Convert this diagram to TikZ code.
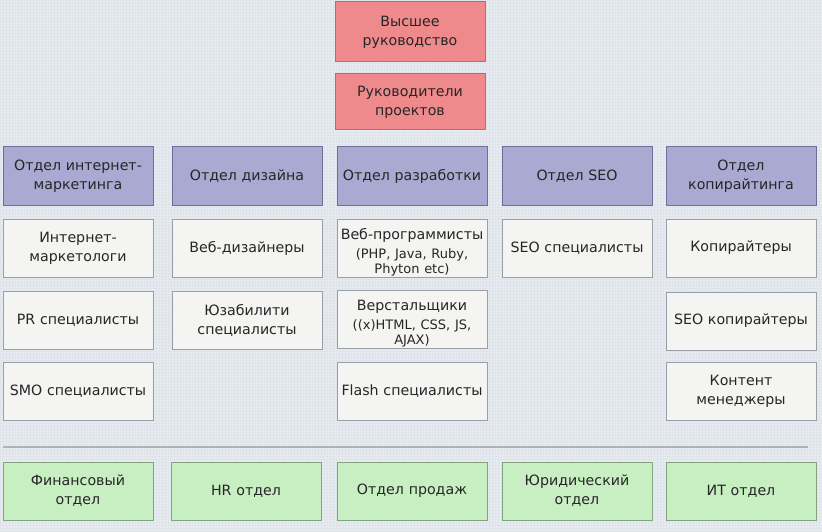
\documentclass[tikz,border=0pt]{standalone}
\usepackage{fontspec}
\setmainfont{DejaVu Sans}
\definecolor{bg}{HTML}{E8ECF1}
\definecolor{gridc}{HTML}{DFE3EA}
\definecolor{redf}{HTML}{EF8A8C}
\definecolor{redd}{HTML}{B86A6E}
\definecolor{bluef}{HTML}{AAA9D2}
\definecolor{blued}{HTML}{6E6E98}
\definecolor{whitef}{HTML}{F4F4F2}
\definecolor{whited}{HTML}{9A9EA6}
\definecolor{greenf}{HTML}{C8EFC2}
\definecolor{greend}{HTML}{7FA47E}
\definecolor{txt}{HTML}{262626}
\definecolor{linec}{HTML}{AEB3BB}
\newcommand{\smalltxt}{\fontsize{13}{15}\selectfont}
\newcommand{\lowstrut}{\rule{0pt}{19pt}}
\begin{document}
\begin{tikzpicture}[x=1pt,y=-1pt,
  box/.style={rectangle, minimum width=150pt, minimum height=58pt, inner sep=0pt,
    text width=148pt, align=center, font=\fontsize{14.2}{19}\selectfont, text=txt, line width=1pt},
  topbox/.style={box, fill=redf, draw=redd},
  deptbox/.style={box, fill=bluef, draw=blued},
  specbox/.style={box, fill=whitef, draw=whited},
  supbox/.style={box, fill=greenf, draw=greend}
]
\useasboundingbox (0,0) rectangle (822,532);
\fill[bg] (0,0) rectangle (822,532);
\draw[gridc, line width=0.3pt, step=3pt] (0,0) grid (822,532);

% top
\node[topbox, minimum height=60pt] (top) at (410,32) {Высшее\\руководство};
\node[topbox, minimum height=56pt] (pm) at (410,102) {Руководители\\проектов};

% departments
\node[deptbox] (d1) at (78,176) {Отдел интернет-\\маркетинга};
\node[deptbox] (d2) at (247,176) {Отдел дизайна};
\node[deptbox] (d3) at (412,176) {Отдел разработки};
\node[deptbox] (d4) at (577,176) {Отдел SEO};
\node[deptbox] (d5) at (741,176) {Отдел\\копирайтинга};

% row 2
\node[specbox] (s31) at (412,248) {\lowstrut Веб-программисты\\[0pt]{\smalltxt (PHP, Java, Ruby,}\\[-4pt]{\smalltxt Phyton etc)}};
\node[specbox] (s11) at (78,248) {Интернет-\\маркетологи};
\node[specbox] (s21) at (247,248) {Веб-дизайнеры};
\node[specbox] (s41) at (577,248) {SEO специалисты};
\node[specbox] (s51) at (741,248) {Копирайтеры};

% row 3
\node[specbox] (s12) at (78,320) {PR специалисты};
\node[specbox] (s22) at (247,320) {Юзабилити\\специалисты};
\node[specbox] (s32) at (412,319) {\lowstrut Верстальщики\\[0pt]{\smalltxt ((x)HTML, CSS, JS,}\\[-4pt]{\smalltxt AJAX)}};
\node[specbox] (s52) at (741,321) {SEO копирайтеры};

% row 4
\node[specbox] (s13) at (78,391) {SMO специалисты};
\node[specbox] (s33) at (412,391) {Flash специалисты};
\node[specbox] (s53) at (741,391) {Контент\\менеджеры};

% divider
\coordinate (la) at (3,447);
\coordinate (lb) at (808,447);
\draw[linec, line width=1.5pt] (la) -- (lb);

% bottom
\node[supbox] (b1) at (78,491) {Финансовый\\отдел};
\node[supbox] (b2) at (246,491) {HR отдел};
\node[supbox] (b3) at (412,491) {Отдел продаж};
\node[supbox] (b4) at (577,491) {Юридический\\отдел};
\node[supbox] (b5) at (741,491) {ИТ отдел};
\end{tikzpicture}
\end{document}
